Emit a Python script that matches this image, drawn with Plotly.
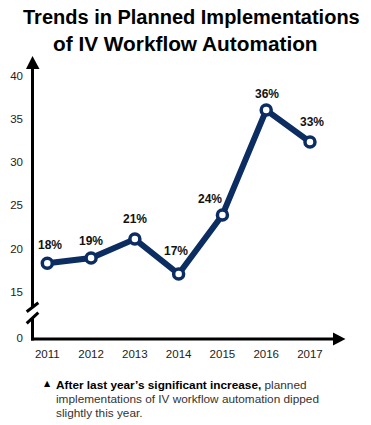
import plotly.graph_objects as go

# ---- data ----
years = [2011, 2012, 2013, 2014, 2015, 2016, 2017]
values = [18.3, 18.9, 21.1, 17.05, 23.9, 36.05, 32.35]
point_labels = ["18%", "19%", "21%", "17%", "24%", "36%", "33%"]
y_tick_values = [15, 20, 25, 30, 35, 40]
y_tick_labels = ["15", "20", "25", "30", "35", "40"]
zero_label = "0"

title_lines = ["Trends in Planned Implementations", "of IV Workflow Automation"]
note_bold = "After last year\u2019s significant increase,"
note_lines = [" planned", "implementations of IV workflow automation dipped", "slightly this year."]

# ---- style / layout constants ----
OFF = 0                      # page body margin is removed below
W, H = 371 - OFF, 425 - OFF
L, R, T, B = 32 - OFF, 31, 56 - OFF, 86
PW, PH = W - L - R, H - T - B
X_RANGE = [2010.6505, 2017.6857]
Y_RANGE = [9.524, 42.317]
ZERO_POS = 9.62          # where the broken axis places its "0" tick
NAVY = "#0b2d61"
FONT = "Liberation Sans, Arial, sans-serif"
label_nudge = [(3, 18), (0, 17), (0, 20), (-3, 23), (-12, 16), (1, 16), (2, 20)]


def px(x):
    # screen x (page pixels) -> paper coordinate
    return (x - OFF - L) / PW


def py(y):
    # screen y (page pixels) -> paper coordinate
    return (T + PH - (y - OFF)) / PH


fig = go.Figure()
fig.add_trace(go.Scatter(
    x=years, y=values, mode="lines+markers",
    line=dict(color=NAVY, width=6),
    marker=dict(size=10, color="white", line=dict(color=NAVY, width=3.5)),
    cliponaxis=False, hoverinfo="skip", showlegend=False,
))

annotations = []
for yr, v, lab, (dx, dy) in zip(years, values, point_labels, label_nudge):
    annotations.append(dict(
        x=yr, y=v, xref="x", yref="y", text="<b>%s</b>" % lab, showarrow=False,
        xshift=dx, yshift=dy, yanchor="middle",
        font=dict(family=FONT, size=12, color="#111111"),
    ))

# title
annotations.append(dict(x=px(192), y=py(17.5), xref="paper", yref="paper",
                        text="<b>%s</b>" % title_lines[0], showarrow=False,
                        xanchor="center", yanchor="middle",
                        font=dict(family=FONT, size=20, color="#000000")))
annotations.append(dict(x=px(185), y=py(44), xref="paper", yref="paper",
                        text="<b>%s</b>" % title_lines[1], showarrow=False,
                        xanchor="center", yanchor="middle",
                        font=dict(family=FONT, size=20.8, color="#000000")))

# footnote
annotations.append(dict(x=px(47.5), y=py(383), xref="paper", yref="paper",
                        text="\u25B2", showarrow=False, xanchor="center", yanchor="middle",
                        font=dict(family="DejaVu Sans", size=8, color="#000000")))
annotations.append(dict(x=px(54), y=py(384.5), xref="paper", yref="paper",
                        text="<b><span style='color:#000000'>%s</span></b>%s" % (note_bold, note_lines[0]),
                        showarrow=False, xanchor="left", yanchor="middle",
                        font=dict(family=FONT, size=11.8, color="#333333")))
for i, line in enumerate(note_lines[1:]):
    annotations.append(dict(x=px(54), y=py(398.5 + 14 * i), xref="paper", yref="paper",
                            text=line, showarrow=False, xanchor="left", yanchor="middle",
                            font=dict(family=FONT, size=11.8, color="#333333")))

# axes drawn as shapes (with arrows and an axis break)
AX_X, AX_Y = 32.5, 339
shapes = [
    dict(type="line", xref="paper", yref="paper", x0=px(AX_X), x1=px(AX_X),
         y0=py(AX_Y + 1.5), y1=py(66), line=dict(color="black", width=3)),
    dict(type="line", xref="paper", yref="paper", x0=px(AX_X - 1.5), x1=px(335),
         y0=py(AX_Y), y1=py(AX_Y), line=dict(color="black", width=3)),
    dict(type="rect", xref="paper", yref="paper", x0=px(29), x1=px(36),
         y0=py(318), y1=py(307.5), fillcolor="white", line=dict(width=0)),
    dict(type="line", xref="paper", yref="paper", x0=px(26.7), x1=px(38.3),
         y0=py(311.7), y1=py(302.7), line=dict(color="black", width=3)),
    dict(type="line", xref="paper", yref="paper", x0=px(26.7), x1=px(38.3),
         y0=py(323.3), y1=py(312.7), line=dict(color="black", width=3)),
    dict(type="path", xref="paper", yref="paper",
         path="M %f %f L %f %f L %f %f Z" % (px(AX_X), py(56), px(26), py(69), px(39.5), py(69)),
         fillcolor="black", line=dict(width=0)),
    dict(type="path", xref="paper", yref="paper",
         path="M %f %f L %f %f L %f %f Z" % (px(345.5), py(AX_Y), px(333), py(332.5), px(333), py(345.5)),
         fillcolor="black", line=dict(width=0)),
]

fig.update_layout(
    width=W, height=H, autosize=False,
    margin=dict(l=L, r=R, t=T, b=B, pad=0),
    paper_bgcolor="white", plot_bgcolor="white",
    showlegend=False,
    annotations=annotations, shapes=shapes,
    xaxis=dict(range=X_RANGE, tickmode="array", tickvals=years,
               ticktext=[str(y) for y in years], showgrid=False, zeroline=False,
               showline=False, ticks="", ticklabelstandoff=6, automargin=False,
               tickfont=dict(family=FONT, size=11.5, color="#222222"), fixedrange=True),
    yaxis=dict(range=Y_RANGE, tickmode="array", tickvals=[ZERO_POS] + y_tick_values,
               ticktext=[zero_label] + y_tick_labels, showgrid=False, zeroline=False,
               showline=False, ticks="", ticklabelstandoff=8, automargin=False,
               tickfont=dict(family=FONT, size=11.5, color="#222222"), fixedrange=True),
)

fig.write_html("out.html", config={"displayModeBar": False},
               post_script="document.body.style.margin='0px';")
